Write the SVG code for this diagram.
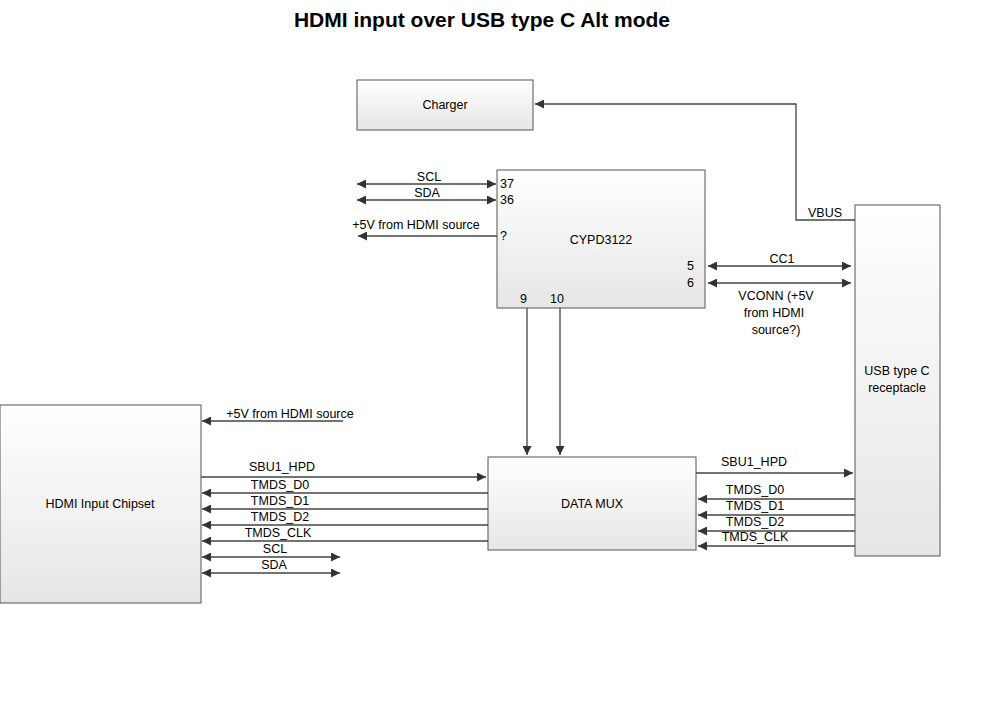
<svg xmlns="http://www.w3.org/2000/svg" width="999" height="707" viewBox="0 0 999 707">
<style>
text{font-family:"Liberation Sans",Arial,sans-serif;font-size:12.5px;fill:#000}
.box{fill:url(#g);stroke:#555;stroke-width:1}
.c{stroke:#444;stroke-width:1.3;fill:none}
.e{marker-end:url(#a)}
.s{marker-start:url(#a)}
.m{text-anchor:middle}
</style>
<defs>
<linearGradient id="g" x1="0" y1="0" x2="0" y2="1"><stop offset="0" stop-color="#fff"/><stop offset="1" stop-color="#e6e6e6"/></linearGradient>
<marker id="a" viewBox="0 0 10 10" refX="10" refY="5" markerWidth="14" markerHeight="9" markerUnits="userSpaceOnUse" orient="auto-start-reverse"><path d="M0,0L10,5L0,10z" fill="#333"/></marker>
</defs>
<text x="482" y="27" class="m" style="font-size:21px;font-weight:bold">HDMI input over USB type C Alt mode</text>
<g id="charger"><rect class="box" x="357" y="80" width="176" height="50"/><text x="445" y="109" class="m">Charger</text></g>
<g id="cypd"><rect class="box" x="497" y="170" width="208" height="138"/><text x="601" y="244" class="m">CYPD3122</text>
<text x="500" y="188">37</text><text x="500" y="204">36</text><text x="500" y="240">?</text>
<text x="687" y="270">5</text><text x="687" y="287">6</text><text x="520" y="303">9</text><text x="550" y="303">10</text></g>
<g id="usbc"><rect class="box" x="855" y="205" width="85" height="351"/><text x="897" y="375" class="m">USB type C</text><text x="897" y="392" class="m">receptacle</text></g>
<g id="hdmi"><rect class="box" x="0" y="405" width="201" height="198"/><text x="100" y="508" class="m">HDMI Input Chipset</text></g>
<g id="mux"><rect class="box" x="488" y="457" width="208" height="93"/><text x="592" y="508" class="m">DATA MUX</text></g>
<g id="connectors">
<path class="c e" d="M855,220H796V104H535"/><text x="825" y="217" class="m">VBUS</text>
<path class="c s e" d="M357,184H496"/><text x="429" y="181" class="m">SCL</text>
<path class="c s e" d="M357,200H496"/><text x="427" y="197" class="m">SDA</text>
<path class="c e" d="M497,236H358"/><text x="416" y="229" class="m">+5V from HDMI source</text>
<path class="c s e" d="M708,266H851"/><text x="782" y="263" class="m">CC1</text>
<path class="c s e" d="M708,283H851"/><text x="776" y="300" class="m">VCONN (+5V</text><text x="774" y="317" class="m">from HDMI</text><text x="776" y="334" class="m">source?)</text>
<path class="c e" d="M527,308V455"/><path class="c e" d="M560,308V455"/>
<path class="c e" d="M343,421H202"/><text x="290" y="418" class="m">+5V from HDMI source</text>
<path class="c e" d="M201,477H486"/><text x="282" y="471" class="m">SBU1_HPD</text>
<path class="c e" d="M488,493H202"/><text x="280" y="489" class="m">TMDS_D0</text>
<path class="c e" d="M488,509H202"/><text x="280" y="505" class="m">TMDS_D1</text>
<path class="c e" d="M488,525H202"/><text x="280" y="521" class="m">TMDS_D2</text>
<path class="c e" d="M488,541H202"/><text x="278" y="537" class="m">TMDS_CLK</text>
<path class="c s e" d="M202,557H340"/><text x="275" y="553" class="m">SCL</text>
<path class="c s e" d="M202,573H340"/><text x="274" y="569" class="m">SDA</text>
<path class="c e" d="M696,473H853"/><text x="754" y="466" class="m">SBU1_HPD</text>
<path class="c e" d="M855,499H698"/><text x="755" y="494" class="m">TMDS_D0</text>
<path class="c e" d="M855,515H698"/><text x="755" y="510" class="m">TMDS_D1</text>
<path class="c e" d="M855,531H698"/><text x="755" y="526" class="m">TMDS_D2</text>
<path class="c e" d="M855,546H698"/><text x="755" y="541" class="m">TMDS_CLK</text>
</g>
</svg>
